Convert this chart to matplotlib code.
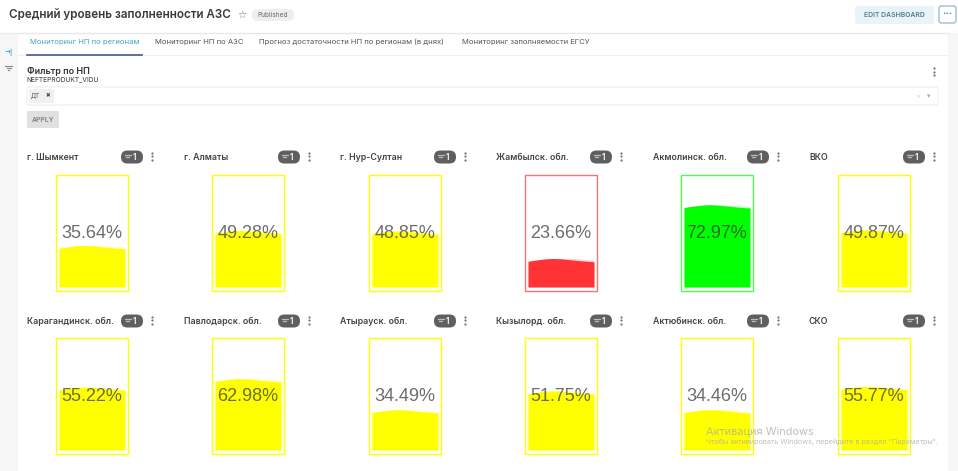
"""Dashboard screenshot: average fill level of petrol stations by region."""

import matplotlib

matplotlib.use("Agg")
import matplotlib.pyplot as plt
from matplotlib.patches import FancyBboxPatch, Rectangle

W, H = 958, 471
UI_FONT = ["Inter", "DejaVu Sans"]
NUM_FONT = ["Liberation Sans", "DejaVu Sans"]

REGIONS_TOP = ["г. Шымкент", "г. Алматы", "г. Нур-Султан", "Жамбылск. обл.", "Акмолинск. обл.", "ВКО"]
VALUES_TOP = [35.64, 49.28, 48.85, 23.66, 72.97, 49.87]
REGIONS_BOTTOM = ["Карагандинск. обл.", "Павлодарск. обл.", "Атырауск. обл.", "Кызылорд. обл.", "Актюбинск. обл.", "СКО"]
VALUES_BOTTOM = [55.22, 62.98, 34.49, 51.75, 34.46, 55.77]
TABS = [
    "Мониторинг НП по регионам",
    "Мониторинг НП по АЗС",
    "Прогноз достаточности НП по регионам (в днях)",
    "Мониторинг заполняемости ЕГСУ",
]

# surface of the liquid, offsets in percent points across the gauge
WAVE_X = [0, 0.08, 0.16, 0.24, 0.32, 0.4, 0.5, 0.6, 0.7, 0.8, 0.9, 1]
WAVE_FRONT = [0, 0.7, 1.4, 2.0, 2.4, 2.5, 2.2, 1.6, 1.0, 0.4, -0.1, -0.5]
WAVE_BACK = [-0.5, 0.2, 0.9, 1.5, 2.1, 2.5, 2.7, 2.7, 2.5, 2.1, 1.5, 0.9]

YELLOW = "#ffff00"
GREEN = "#00ff00"
RED = "#ff3333"
COLUMN_X = [27, 184, 340, 496, 653, 809]
GAUGE_X = [56, 212, 369, 525, 681, 838]


def gauge_color(value):
    if value < 30:
        return RED
    if value > 70:
        return GREEN
    return YELLOW


def add_pill(ax, x0, y0, w, h, face, edge="none", lw=0, radius=3.0, zorder=3):
    patch = FancyBboxPatch(
        (x0 + radius, y0 + radius),
        w - 2 * radius,
        h - 2 * radius,
        boxstyle=f"round,pad={radius}",
        facecolor=face,
        edgecolor=edge,
        linewidth=lw,
        zorder=zorder,
    )
    ax.add_patch(patch)


def add_dots(ax, x, y, color="#777777", size=1.3):
    ax.scatter([x, x, x], [y - 3.5, y, y + 3.5], s=size * 2, color=color, linewidths=0, zorder=4)


def draw_gauge(fig, ax, x0, y0, value):
    color = gauge_color(value)
    edge_alpha = 1 if color == YELLOW else 0.7
    ax.add_patch(Rectangle((x0, y0), 72, 115.5, facecolor="none", edgecolor=color, linewidth=1.0, alpha=edge_alpha))

    inner = fig.add_axes([(x0 + 3) / W, 1 - (y0 + 112) / H, 66 / W, 109 / H])
    inner.set_xlim(0, 1)
    inner.set_ylim(0, 100)
    inner.axis("off")
    inner.fill_between(WAVE_X, 0, [value + d for d in WAVE_BACK], color=color, alpha=0.2, linewidth=0)
    inner.fill_between(WAVE_X, 0, [value + d for d in WAVE_FRONT], color=color, linewidth=0)


def draw_row(fig, ax, names, values, title_y, gauge_y):
    for name, value, tx, gx in zip(names, values, COLUMN_X, GAUGE_X):
        ax.text(tx, title_y, name, fontsize=6.3, fontweight="semibold", color="#444444", family=UI_FONT, va="center")
        add_pill(ax, tx + 94, title_y - 6.5, 22, 13, "#5f5f5f", radius=6.4)
        ax.text(tx + 107.5, title_y, "1", fontsize=5.8, fontweight="bold", color="#eeeeee", family=UI_FONT, ha="center", va="center")
        ax.plot([tx + 98, tx + 104], [title_y - 2, title_y - 2], color="#bbbbbb", lw=0.9, zorder=4)
        ax.plot([tx + 99.5, tx + 102.5], [title_y, title_y], color="#bbbbbb", lw=0.9, zorder=4)
        add_dots(ax, tx + 125, title_y - 1)
        draw_gauge(fig, ax, gx, gauge_y, value)


def draw_chrome(ax):
    ax.add_patch(Rectangle((0, 33), 18, H - 33, facecolor="#f6f6f6", edgecolor="none"))
    ax.add_patch(Rectangle((948, 33), 10, H - 33, facecolor="#f6f6f6", edgecolor="none"))
    ax.plot([0, 948], [33, 33], color="#e8e8e8", lw=1)
    ax.plot([18, 948], [55, 55], color="#f0f0f0", lw=0.8)

    ax.text(9, 15, "Средний уровень заполненности АЗС", fontsize=8.4, fontweight="semibold", color="#3a3a3a", family=UI_FONT, va="center")
    ax.text(242, 15, "☆", fontsize=7.5, color="#777777", family="DejaVu Sans", ha="center", va="center")
    add_pill(ax, 252, 9, 42, 12, "#eeeeee", radius=5.5)
    ax.text(273, 15, "Published", fontsize=4.7, color="#666666", family=UI_FONT, ha="center", va="center")

    add_pill(ax, 855, 6, 79, 18, "#e8f4f8", radius=2.5)
    ax.text(894.5, 15, "EDIT DASHBOARD", fontsize=4.9, fontweight="semibold", color="#4d7f91", family=UI_FONT, ha="center", va="center")
    add_pill(ax, 939, 6, 17, 17, "white", edge="#9dbfcc", lw=1, radius=2.5)
    ax.text(947.5, 14, "•••", fontsize=4, color="#4d7f91", family="DejaVu Sans", ha="center", va="center")

    for tab, x, color in zip(TABS, [30, 155, 259, 462], ["#45a5c4", "#555555", "#555555", "#555555"]):
        ax.text(x, 42, tab, fontsize=5.5, color=color, family=UI_FONT, va="center")
    ax.plot([27, 142], [55, 55], color="#3f5a8c", lw=1.2)

    ax.text(9, 53, "→|", fontsize=5, fontweight="bold", color="#2fa3c9", family="DejaVu Sans", ha="center", va="center")
    ax.plot([5.5, 12.5], [65.5, 65.5], color="#888888", lw=0.8)
    ax.plot([7, 11], [67.5, 67.5], color="#888888", lw=0.8)
    ax.plot([8.5, 9.5], [69.5, 69.5], color="#888888", lw=0.8)

    ax.text(27, 72, "Фильтр по НП", fontsize=6.5, fontweight="semibold", color="#333333", family=UI_FONT, va="center")
    ax.text(27, 79.5, "NEFTEPRODUKT_VIDU", fontsize=4.8, fontweight="medium", color="#555555", family=UI_FONT, va="center")
    add_dots(ax, 934, 71.5)

    add_pill(ax, 27, 87, 911, 18, "white", edge="#eeeeee", lw=0.8, radius=2)
    add_pill(ax, 29, 89, 25, 14, "#f0f0f0", radius=1.5)
    ax.text(35.5, 96, "ДТ", fontsize=4.5, color="#555555", family=UI_FONT, ha="center", va="center")
    ax.text(48, 96, "✖", fontsize=4, color="#444444", family="DejaVu Sans", ha="center", va="center")
    ax.text(917.5, 96.5, "×", fontsize=4.5, color="#cccccc", family="DejaVu Sans", ha="center", va="center")
    ax.text(929, 96, "▾", fontsize=5, color="#aaaaaa", family="DejaVu Sans", ha="center", va="center")

    add_pill(ax, 27, 111, 32, 17, "#e0e0e0", radius=1.5)
    ax.text(43, 119.5, "APPLY", fontsize=4.8, fontweight="bold", color="#888888", family=UI_FONT, ha="center", va="center")


def draw_labels(overlay):
    for values, y in [(VALUES_TOP, 233.5), (VALUES_BOTTOM, 396.5)]:
        for value, gx in zip(values, GAUGE_X):
            overlay.text(gx + 36, y, f"{value:.2f}%", fontsize=13, color="#3c3c3c", alpha=0.75, family=NUM_FONT, ha="center", va="center")
    overlay.text(706, 431, "Активация Windows", fontsize=7.9, color="#aaaaaa", alpha=0.75, family=UI_FONT, va="center")
    overlay.text(706, 442, "Чтобы активировать Windows, перейдите в раздел \"Параметры\".", fontsize=5.2, color="#aaaaaa", alpha=0.75, family=UI_FONT, va="center")


def main():
    fig = plt.figure(figsize=(W / 100, H / 100), dpi=100, facecolor="white")
    ax = fig.add_axes([0, 0, 1, 1])
    ax.set_xlim(0, W)
    ax.set_ylim(H, 0)
    ax.axis("off")

    draw_chrome(ax)
    draw_row(fig, ax, REGIONS_TOP, VALUES_TOP, 157, 175)
    draw_row(fig, ax, REGIONS_BOTTOM, VALUES_BOTTOM, 321, 338)

    overlay = fig.add_axes([0, 0, 1, 1], zorder=10)
    overlay.set_xlim(0, W)
    overlay.set_ylim(H, 0)
    overlay.axis("off")
    draw_labels(overlay)

    fig.savefig("out.png", dpi=100)
    plt.close(fig)


if __name__ == "__main__":
    main()
